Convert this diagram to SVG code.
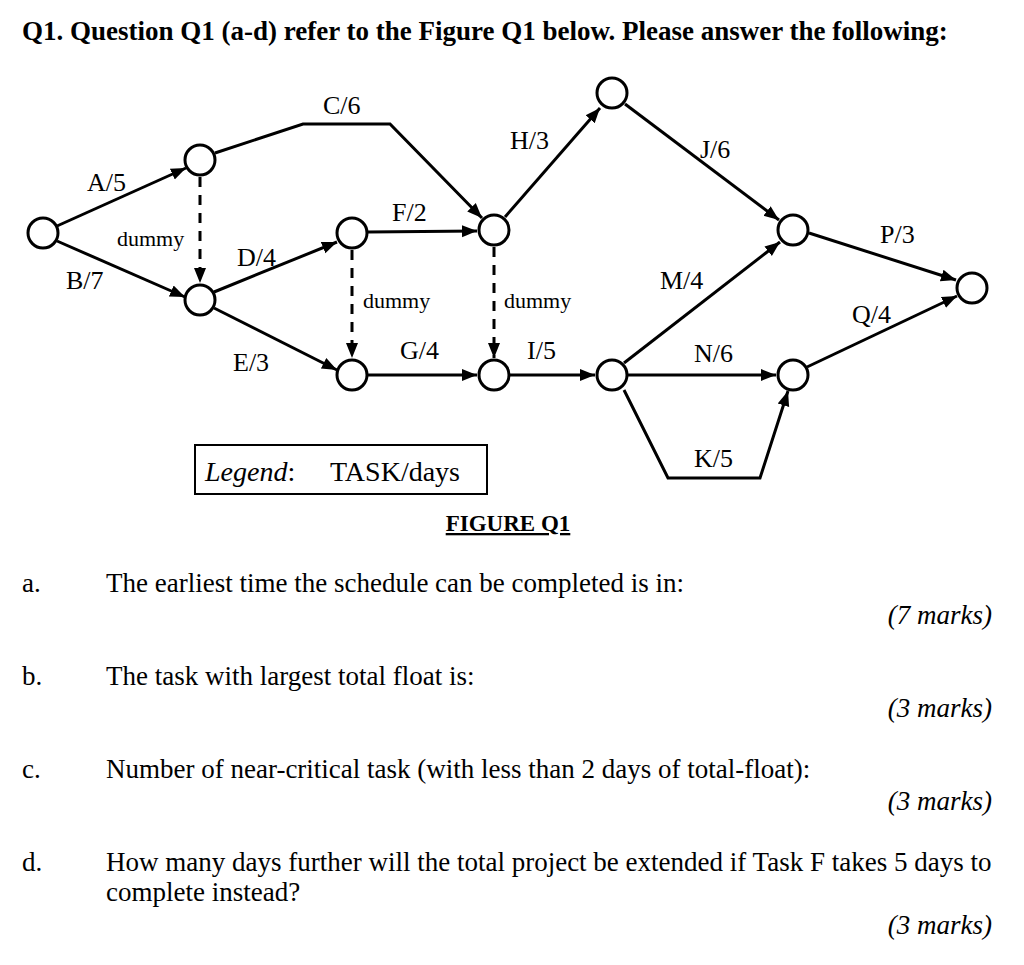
<svg xmlns="http://www.w3.org/2000/svg" width="1024" height="965" viewBox="0 0 1024 965">
<style>
text{font-family:"Liberation Serif","Times New Roman",serif;fill:#000}
.t{font-size:27px}
.l{font-size:26px}
.s{font-size:22px}
circle{fill:#fff;stroke:#000;stroke-width:3}
.e{fill:none;stroke:#000;stroke-width:3;marker-end:url(#ar)}
.d{fill:none;stroke:#000;stroke-width:3;stroke-dasharray:10,8;marker-end:url(#ar)}
</style>
<defs><marker id="ar" viewBox="0 0 10 10" refX="10" refY="5" markerWidth="5" markerHeight="5" orient="auto" markerUnits="strokeWidth"><path d="M0,1 L10,5 L0,9 z" fill="#000"/></marker></defs>
<rect width="1024" height="965" fill="#fff"/>
<text x="22" y="40" class="t" font-weight="bold">Q1. Question Q1 (a-d) refer to the Figure Q1 below. Please answer the following:</text>
<g id="connectors">
<line class="e" x1="57" y1="226" x2="186" y2="168"/>
<line class="e" x1="57" y1="241" x2="185" y2="297"/>
<polyline class="e" points="215,153 303,124 390,124 482,218"/>
<line class="d" x1="200" y1="177" x2="200" y2="283"/>
<line class="e" x1="214" y1="292" x2="337" y2="242"/>
<line class="e" x1="214" y1="308" x2="337" y2="370"/>
<line class="e" x1="368" y1="232" x2="477" y2="231"/>
<line class="d" x1="352" y1="250" x2="352" y2="358"/>
<line class="d" x1="494" y1="247" x2="494" y2="358"/>
<line class="e" x1="368" y1="375" x2="477" y2="375"/>
<line class="e" x1="510" y1="375" x2="595" y2="375"/>
<line class="e" x1="505" y1="217" x2="600" y2="108"/>
<line class="e" x1="625" y1="104" x2="779" y2="220"/>
<line class="e" x1="624" y1="363" x2="780" y2="242"/>
<line class="e" x1="628" y1="375" x2="776" y2="375"/>
<polyline class="e" points="624,390 668,478 760,478 788,391"/>
<line class="e" x1="809" y1="233" x2="956" y2="280"/>
<line class="e" x1="807" y1="367" x2="957" y2="296"/>
</g>
<g id="nodes">
<circle id="n0" cx="43" cy="233" r="15"/>
<circle id="n1" cx="200" cy="160" r="15"/>
<circle id="n2" cx="200" cy="300" r="15"/>
<circle id="n3" cx="352" cy="233" r="15"/>
<circle id="n4" cx="494" cy="230" r="15"/>
<circle id="n5" cx="352" cy="375" r="15"/>
<circle id="n6" cx="494" cy="375" r="15"/>
<circle id="n7" cx="612" cy="93" r="15"/>
<circle id="n8" cx="612" cy="375" r="15"/>
<circle id="n9" cx="793" cy="230" r="15"/>
<circle id="n10" cx="793" cy="375" r="15"/>
<circle id="n11" cx="972" cy="288" r="15"/>
</g>
<g id="labels">
<text x="87" y="191" class="l">A/5</text>
<text x="66" y="289" class="l">B/7</text>
<text x="323" y="114" class="l">C/6</text>
<text x="117" y="246" class="s">dummy</text>
<text x="237" y="266" class="l">D/4</text>
<text x="233" y="371" class="l">E/3</text>
<text x="392" y="221" class="l">F/2</text>
<text x="363" y="308" class="s">dummy</text>
<text x="504" y="308" class="s">dummy</text>
<text x="400" y="359" class="l">G/4</text>
<text x="527" y="359" class="l">I/5</text>
<text x="510" y="149" class="l">H/3</text>
<text x="700" y="158" class="l">J/6</text>
<text x="660" y="289" class="l">M/4</text>
<text x="694" y="362" class="l">N/6</text>
<text x="694" y="467" class="l">K/5</text>
<text x="880" y="243" class="l">P/3</text>
<text x="852" y="323" class="l">Q/4</text>
</g>
<rect x="195" y="445" width="292" height="49" fill="none" stroke="#000" stroke-width="2"/>
<text x="205" y="481" font-size="28"><tspan font-style="italic">Legend</tspan>:<tspan x="330">TASK/days</tspan></text>
<text x="508" y="531" font-size="23" font-weight="bold" text-anchor="middle" text-decoration="underline">FIGURE Q1</text>
<text x="22" y="592" class="t">a.</text>
<text x="106" y="592" class="t">The earliest time the schedule can be completed is in:</text>
<text x="992" y="624" class="t" font-style="italic" text-anchor="end">(7 marks)</text>
<text x="22" y="685" class="t">b.</text>
<text x="106" y="685" class="t">The task with largest total float is:</text>
<text x="992" y="717" class="t" font-style="italic" text-anchor="end">(3 marks)</text>
<text x="22" y="778" class="t">c.</text>
<text x="106" y="778" class="t">Number of near-critical task (with less than 2 days of total-float):</text>
<text x="992" y="810" class="t" font-style="italic" text-anchor="end">(3 marks)</text>
<text x="22" y="871" class="t">d.</text>
<text x="106" y="871" class="t">How many days further will the total project be extended if Task F takes 5 days to</text>
<text x="106" y="901" class="t">complete instead?</text>
<text x="992" y="934" class="t" font-style="italic" text-anchor="end">(3 marks)</text>
</svg>
